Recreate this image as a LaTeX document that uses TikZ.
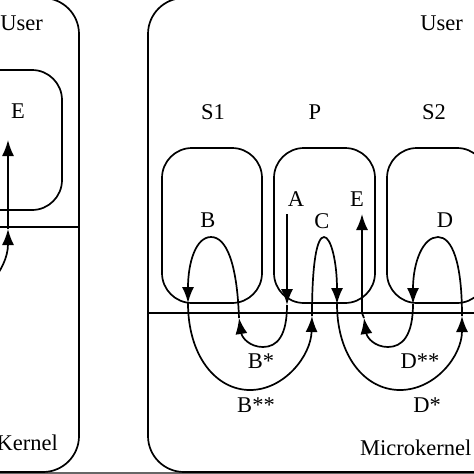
\documentclass[tikz,border=0pt]{standalone}
\usepackage{fontspec}
\setmainfont{Liberation Serif}
\usetikzlibrary{arrows.meta}
\begin{document}
\begin{tikzpicture}[x=1pt,y=-1pt,
  ln/.style={line width=1.7pt},
  ibox/.style={draw, ln, rounded corners=30pt, minimum width=100pt, minimum height=155pt, inner sep=0pt, outer sep=0pt},
  obox/.style={draw, ln, rounded corners=36pt, minimum width=420pt, minimum height=474pt, inner sep=0pt, outer sep=0pt},
  flow/.style={ln, -{Latex[length=16pt,width=12pt]}},
  lbl/.style={font=\fontsize{22.5}{26}\selectfont, inner sep=0pt, anchor=base},
]
\useasboundingbox (0,0) rectangle (474,474);
\clip (0,0) rectangle (474,474);
\fill[black!60] (0,472) rectangle (474,474);

% outer boxes
\node[obox, anchor=north east] (lout) at (79,-2) {};
\node[obox, anchor=north west] (rout) at (148,-2) {};
% separators
\coordinate (lsepA) at (lout.west |- 0,227);
\coordinate (lsepB) at (lout.east |- 0,227);
\coordinate (rsepA) at (rout.west |- 0,313);
\coordinate (rsepB) at (rout.east |- 0,313);
\draw[ln] (lsepA) -- (lsepB);
\draw[ln] (rsepA) -- (rsepB);

% inner boxes
\node[ibox, minimum height=140pt, anchor=north east] (ebox) at (62,70) {};
\node[ibox, anchor=north west] (s1box) at (162,148) {};
\node[ibox, minimum width=101pt, anchor=north west] (pbox) at (274,148) {};
\node[ibox, anchor=north west] (s2box) at (387,148) {};

% labels
\node[lbl, anchor=base east] (luser) at (43,30) {User};
\node[lbl, anchor=base east] (ruser) at (463,30) {User};
\node[lbl] (le) at (18,118) {E};
\node[lbl, anchor=base east] (lkern) at (58,450) {Kernel};
\node[lbl, anchor=base west] (mkern) at (360,455) {Microkernel};
\node[lbl] (s1) at (213,119) {S1};
\node[lbl] (p) at (315,119) {P};
\node[lbl] (s2) at (434,119) {S2};
\node[lbl] (b) at (208,227) {B};
\node[lbl] (a) at (296,206) {A};
\node[lbl] (c) at (322,228) {C};
\node[lbl] (e) at (357,206) {E};
\node[lbl] (d) at (445,227) {D};
\node[lbl] (bs) at (261,368) {B*};
\node[lbl] (bss) at (256,412) {B**};
\node[lbl] (dss) at (420,368) {D**};
\node[lbl] (ds) at (427,412) {D*};

% junction points
\coordinate (a0) at (287,214);
\coordinate (j1) at (287,305);
\coordinate (j2) at (239,318);
\coordinate (j3) at (188,303);
\coordinate (j4) at (312,316);
\coordinate (j5) at (337,304);
\coordinate (j6) at (462,316);
\coordinate (j7) at (413,304);
\coordinate (j8) at (364,318);
\coordinate (e1) at (362,214);
\coordinate (l0) at (-55,304);
\coordinate (l1) at (8,229);
\coordinate (l2) at (8,140);

% flows
\draw[flow] (a0) -- (j1);
\draw[flow] (j1) .. controls (287,336) and (277,347) .. (263,347)
                 .. controls (250,347) and (242,338) .. (j2);
\draw[flow] (j2) .. controls (237,262) and (226,237) .. (211,237)
                 .. controls (196,237) and (188,262) .. (j3);
\draw[flow] (j3) .. controls (188,356) and (216,390) .. (250,390)
                 .. controls (284,390) and (311,356) .. (j4);
\draw[flow] (j4) .. controls (312,262) and (317,237) .. (324,237)
                 .. controls (331,237) and (337,262) .. (j5);
\draw[flow] (j5) .. controls (337,356) and (365,390) .. (400,390)
                 .. controls (435,390) and (462,356) .. (j6);
\draw[flow] (j6) .. controls (462,262) and (452,237) .. (438,237)
                 .. controls (423,237) and (413,262) .. (j7);
\draw[flow] (j7) .. controls (413,336) and (402,347) .. (388,347)
                 .. controls (375,347) and (367,338) .. (j8);
\draw[ln] (j8) -- (362,313);
\draw[flow] (362,313) -- (e1);
\draw[flow] (l0) .. controls (-20,304) and (8,270) .. (l1);
\draw[flow] (l1) -- (l2);
\end{tikzpicture}
\end{document}
